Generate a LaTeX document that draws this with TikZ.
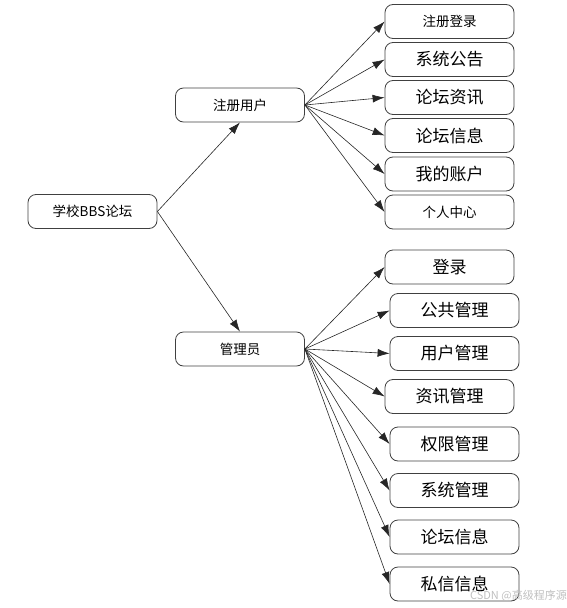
\documentclass[tikz,border=0pt]{standalone}
\usepackage{fontspec}
\setmainfont{Noto Sans CJK SC}
\usetikzlibrary{arrows.meta}
\begin{document}
\begin{tikzpicture}[x=1pt,y=-1pt,
 box/.style={draw=black!75, line width=0.8pt, rounded corners=8pt, minimum width=129pt, minimum height=34pt, inner sep=0pt, anchor=center},
 small/.style={font=\fontsize{13.5}{14}\selectfont},
 big/.style={font=\fontsize{17}{18}\selectfont},
 arr/.style={-{Latex[length=12pt,width=8pt]}, line width=0.6pt, black!85}]
\useasboundingbox (0,0) rectangle (567,608);
\node[box,small] (root) at (92.5,211.5) {学校BBS论坛};
\node[box,small] (reg) at (240,105) {注册用户};
\node[box,small] (admin) at (240,349) {管理员};
\node[box,small] (r1) at (449.5,21.5) {注册登录};
\node[box,big] (r2) at (449.5,59.5) {系统公告};
\node[box,big] (r3) at (449.5,97.5) {论坛资讯};
\node[box,big] (r4) at (449.5,135.5) {论坛信息};
\node[box,big] (r5) at (449.5,174) {我的账户};
\node[box,small] (r6) at (449.5,212) {个人中心};
\node[box,big] (a1) at (449.5,267) {登录};
\node[box,big] (a2) at (454.5,310.5) {公共管理};
\node[box,big] (a3) at (454.5,353.5) {用户管理};
\node[box,big] (a4) at (449.5,396.5) {资讯管理};
\node[box,big] (a5) at (454.5,444) {权限管理};
\node[box,big] (a6) at (454.5,490.5) {系统管理};
\node[box,big] (a7) at (454.5,537) {论坛信息};
\node[box,big] (a8) at (454.5,584) {私信信息};
\draw[arr] (root.east) -- (reg.south);
\draw[arr] (root.east) -- (admin.north);
\foreach \t in {r1,r2,r3,r4,r5,r6} \draw[arr] (reg.east) -- (\t.west);
\foreach \t in {a1,a2,a3,a4,a5,a6,a7,a8} \draw[arr] (admin.east) -- (\t.west);
\node[anchor=east, text=black!25, font=\fontsize{11}{12}\selectfont, inner sep=0pt] (wm) at (567,596) {CSDN @高级程序源};
\end{tikzpicture}
\end{document}
